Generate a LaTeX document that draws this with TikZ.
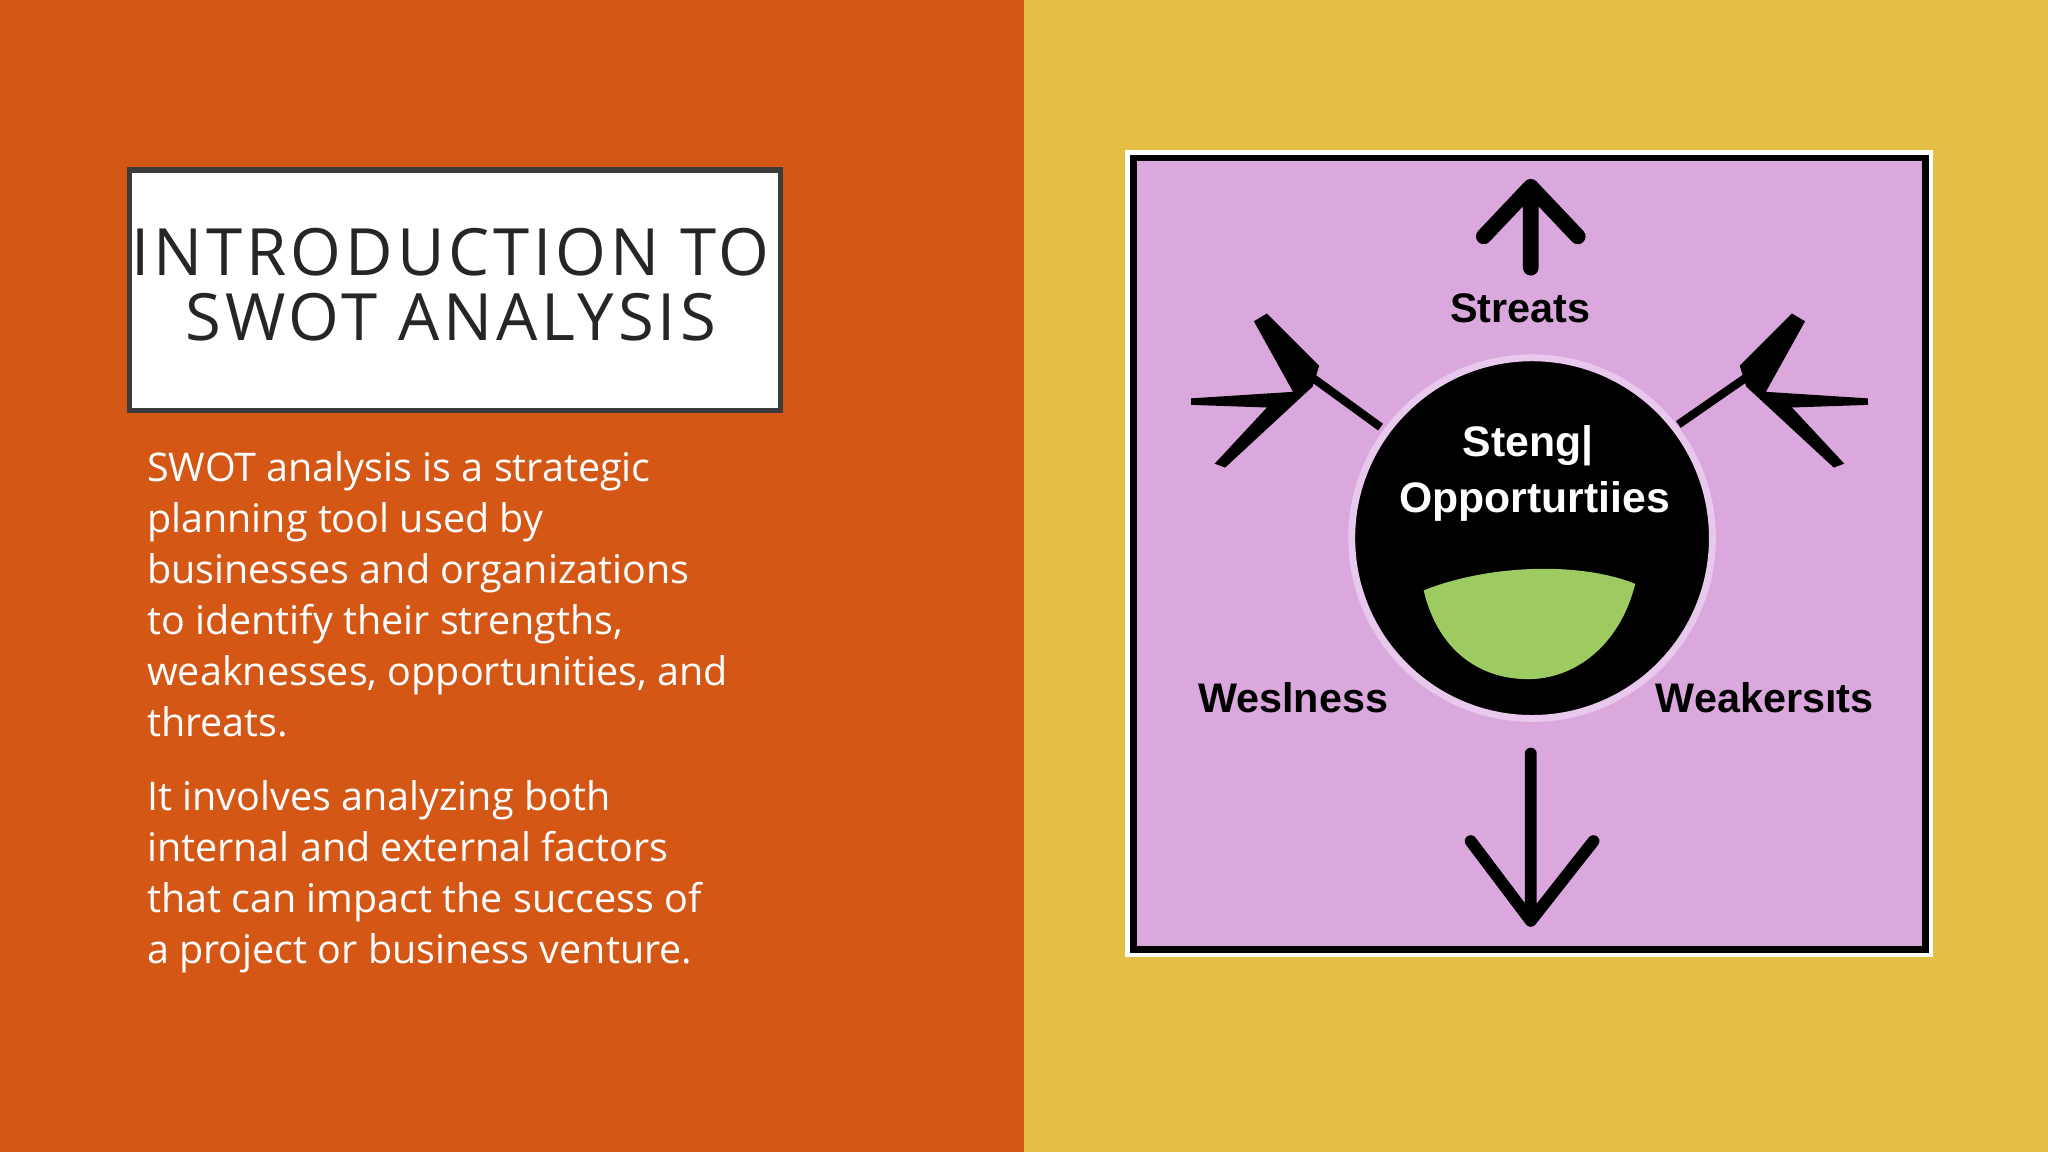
\documentclass[tikz,border=0pt]{standalone}
\usepackage{fontspec}
\setmainfont{Open Sans}
\newfontfamily\arialb{Liberation Sans}
\definecolor{orng}{HTML}{D45715}
\definecolor{yelw}{HTML}{E5BF43}
\definecolor{pnk}{HTML}{DBA8DE}
\definecolor{lil}{HTML}{E8C8EC}
\definecolor{grn}{HTML}{9DCB62}
\definecolor{dgr}{HTML}{262626}
\tikzset{lbl/.style={font=\arialb\bfseries\fontsize{9}{10}\selectfont,text=black,inner sep=0},
 body/.style={anchor=north west,align=left,text=white,inner sep=0,font=\fontsize{8.6}{11.1}\selectfont}}
\begin{document}
\begin{tikzpicture}[x=0.01cm,y=-0.01cm]
\useasboundingbox (0,0) rectangle (1568,882);
\fill[orng] (0,0) rectangle (784,882);
\fill[yelw] (784,0) rectangle (1568,882);
\node[draw=dgr!90,line width=1.2pt,fill=white,minimum width=4.98cm,minimum height=1.84cm,anchor=north west,inner sep=0] (tbox) at (97,128) {};
\node[align=center,text=dgr,font=\fontsize{14.2}{14.3}\selectfont\addfontfeature{LetterSpace=6}] (title) at (345,218) {INTRODUCTION TO\\SWOT ANALYSIS};
\node[body] (p1) at (112,345) {SWOT analysis is a strategic\\planning tool used by\\businesses and organizations\\to identify their strengths,\\weaknesses, opportunities, and\\threats.};
\node[body] (p2) at (112,597) {It involves analyzing both\\internal and external factors\\that can impact the success of\\a project or business venture.};
% image
\fill[white] (861,115) rectangle (1480,733);
\draw[black,fill=pnk,line width=1.5pt] (868,121) rectangle (1474,727);
% circle
\node[circle,fill=black,draw=lil,line width=1.5pt,minimum size=2.76cm,inner sep=0] (circ) at (1173,412) {};
\fill[grn] (1090,452) .. controls (1140,432) and (1210,430) .. (1252,447) .. controls (1240,495) and (1205,520) .. (1170,520) .. controls (1130,520) and (1100,495) .. (1090,452);
\node[text=white,font=\arialb\bfseries\fontsize{9.3}{10}\selectfont,inner sep=0] (s1) at (1170,341) {Steng|};
\node[text=white,font=\arialb\bfseries\fontsize{9.3}{10}\selectfont,inner sep=0] (s2) at (1175,384) {Opporturtiies};
\node[lbl] (tr) at (1164,236) {Streats};
\node[lbl] (wl) at (990,534) {Weslness};
\node[lbl] (wr) at (1351,534) {Weakersıts};
% top arrow
\coordinate (ta) at (1172,205); \coordinate (tb) at (1172,143);
\draw[line width=3.4pt,line cap=round,line join=round] (ta) -- (tb) (1136,181) -- (tb) -- (1208,181);
% bottom arrow
\coordinate (ba) at (1172,577); \coordinate (bb) at (1172,705);
\draw[line width=2.6pt,line cap=round,line join=round] (ba) -- (bb) (1126,644) -- (bb) -- (1220,644);
% left arrow
\draw[line width=1.8pt] (1057,327) -- (995,282);
\fill[line join=round] (960,246) -- (970,240) -- (1010,280) -- (1005,296) -- (938,358) -- (930,355) -- (970,312) -- (912,310) -- (912,305) -- (990,300) -- cycle;
% right arrow (mirror about x=1171)
\draw[line width=1.8pt] (1285,325) -- (1347,282);
\fill[line join=round] (1382,246) -- (1372,240) -- (1332,280) -- (1337,296) -- (1404,358) -- (1412,355) -- (1372,312) -- (1430,310) -- (1430,305) -- (1352,300) -- cycle;
\end{tikzpicture}
\end{document}
